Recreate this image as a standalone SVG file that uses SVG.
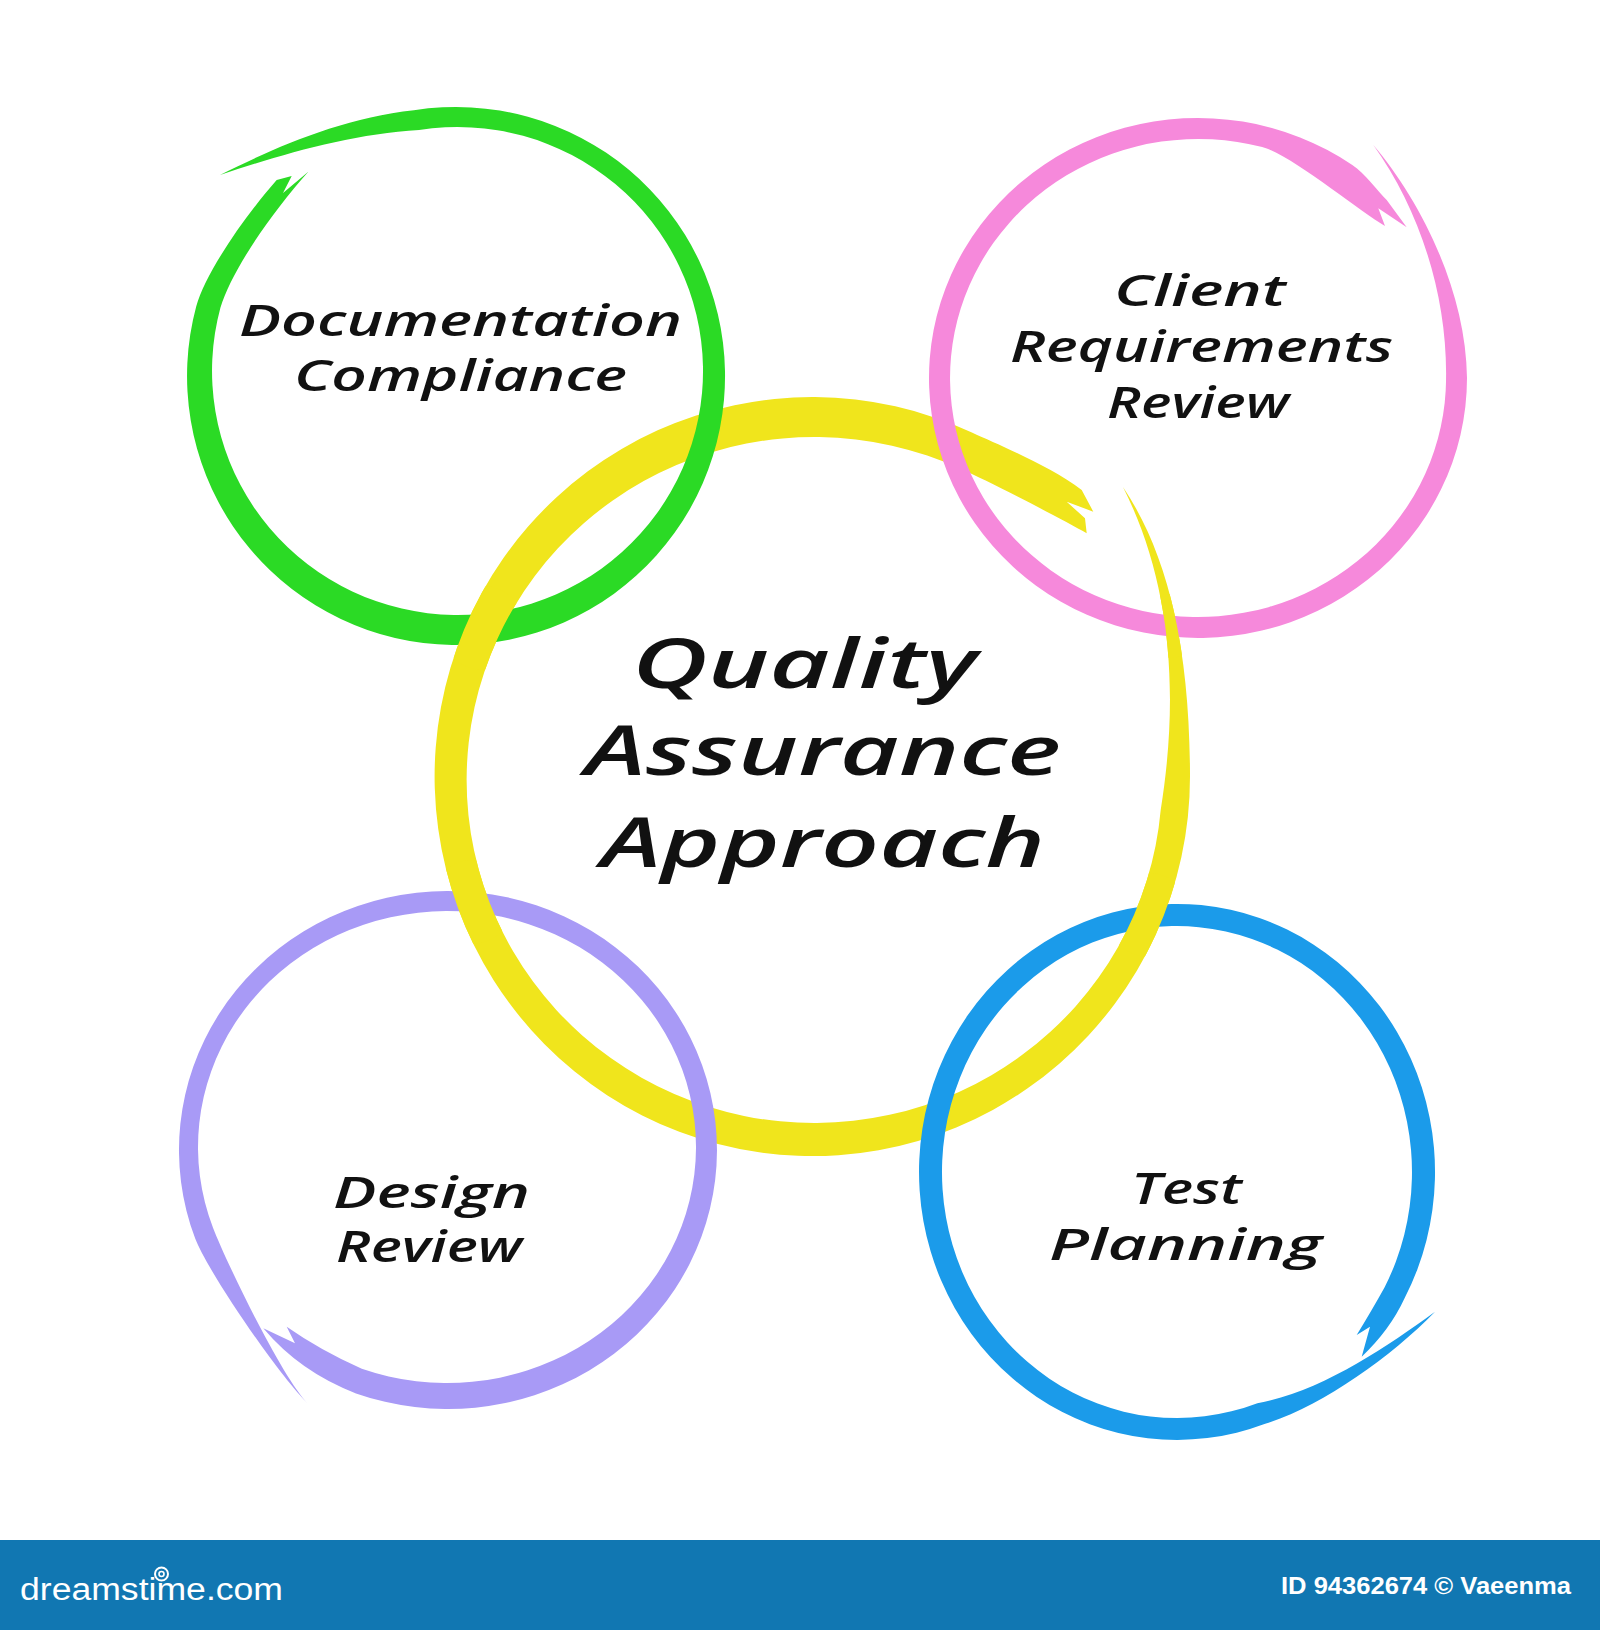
<svg xmlns="http://www.w3.org/2000/svg" xmlns:xlink="http://www.w3.org/1999/xlink" width="1600" height="1630" viewBox="0 0 1600 1630">
  <style>
    .lbl { font-family: "Open Sans", "DejaVu Sans", sans-serif; font-style: italic; font-weight: 600; fill: #111111; }
    .small { font-size: 44px; }
    .big { font-size: 68px; }
    .green { fill: #2bda25; }
    .yellow { fill: #f0e51c; }
    .pink { fill: #f689db; }
    .purple { fill: #a89af6; }
    .blue { fill: #1b9bea; }
    .foot { fill: #ffffff; font-family: "Liberation Sans", Arial, sans-serif; }
  </style>
  <defs>
    <path id="yellow-ring" d="M 1190,776.5 A 377.7 379.5 0 1 1 971.9,432.6 C 999,445 1050,466 1081.7,490 L 1093.3,511.7 L 1066.7,501.7 L 1085,518.3 L 1086.7,533.3 C 1060,518 990,482 961.2,469.1 A 347.7 343 0 1 0 1160.7,809.9 C 1180,690 1170,580 1123,487 C 1165,550 1190,640 1190,776.5 Z"/>
    <clipPath id="yellow-over">
      <circle cx="483" cy="628" r="42"/>
      <circle cx="1170" cy="626" r="32"/>
      <circle cx="472" cy="902" r="42"/>
      <circle cx="1149" cy="915" r="42"/>
    </clipPath>
  </defs>

  <rect x="0" y="0" width="1600" height="1630" fill="#ffffff"/>

  <g id="quality-assurance-approach">
    <use xlink:href="#yellow-ring" href="#yellow-ring" class="yellow"/>
    <text class="lbl big" x="632" y="688" textLength="345" lengthAdjust="spacingAndGlyphs">Quality</text>
    <text class="lbl big" x="585" y="775" textLength="476" lengthAdjust="spacingAndGlyphs">Assurance</text>
    <text class="lbl big" x="601" y="867" textLength="444" lengthAdjust="spacingAndGlyphs">Approach</text>
  </g>

  <g id="documentation-compliance">
    <path class="green" d="M 413.9,110.3 A 269 269 0 1 1 196.2,306.4 C 205,275 240,222 276.7,180 L 291.7,176 L 283,193 L 308.3,171.7 C 270,215 232,270 220.4,307.8 A 245.5 244 0 1 0 419.1,130 C 350,134 280,155 220,175 C 270,150 340,118 413.9,110.3 Z"/>
    <text class="lbl small" x="239" y="336" textLength="443" lengthAdjust="spacingAndGlyphs">Documentation</text>
    <text class="lbl small" x="294" y="391" textLength="333" lengthAdjust="spacingAndGlyphs">Compliance</text>
  </g>

  <g id="client-requirements-review">
    <path class="pink" d="M 1467,378 A 269 260 0 1 1 1352.3,165 C 1364.8,173.4 1378.3,191.5 1386.7,200 L 1406.7,227.3 L 1378.3,208.3 L 1385,226 C 1360,212 1291.2,154.6 1262.2,147.1 A 248 239 0 1 0 1445.7,390.5 C 1450,300 1420,210 1373.3,145 C 1420,200 1466,290 1467,378 Z"/>
    <text class="lbl small" x="1114" y="306" textLength="172" lengthAdjust="spacingAndGlyphs">Client</text>
    <text class="lbl small" x="1010" y="362" textLength="383" lengthAdjust="spacingAndGlyphs">Requirements</text>
    <text class="lbl small" x="1107" y="418" textLength="182" lengthAdjust="spacingAndGlyphs">Review</text>
  </g>

  <g id="design-review">
    <path class="purple" d="M 356,1393.4 A 269 259 0 1 0 195.2,1238.6 C 207.6,1271.3 279.5,1376.4 308.3,1404 C 282,1378 225.5,1260.4 213,1227.7 A 249 236 0 1 1 361.8,1368.8 Q 320,1350 286.7,1326.7 L 295,1343.3 L 263.3,1328.3 Q 300,1372 356,1393.4 Z"/>
    <text class="lbl small" x="333" y="1208" textLength="197" lengthAdjust="spacingAndGlyphs">Design</text>
    <text class="lbl small" x="336" y="1262" textLength="186" lengthAdjust="spacingAndGlyphs">Review</text>
  </g>

  <g id="test-planning">
    <path class="blue" d="M 1404.8,1297.8 A 258 268 0 1 0 1265.2,1423.8 C 1320,1407 1390,1358 1435,1311.7 C 1385,1348 1320,1392 1257.4,1403.2 A 235 246 0 1 1 1384.5,1287.5 Q 1372,1310 1356.7,1335 L 1370,1326.7 L 1361.7,1356.7 Q 1390,1330 1404.8,1297.8 Z"/>
    <text class="lbl small" x="1131" y="1204" textLength="111" lengthAdjust="spacingAndGlyphs">Test</text>
    <text class="lbl small" x="1049" y="1260" textLength="273" lengthAdjust="spacingAndGlyphs">Planning</text>
  </g>

  <g id="ring-crossings" clip-path="url(#yellow-over)">
    <use xlink:href="#yellow-ring" href="#yellow-ring" class="yellow"/>
  </g>

  <g id="connectors"/>

  <g id="footer">
    <rect x="0" y="1540" width="1600" height="90" fill="#1177b2"/>
    <text class="foot" x="20" y="1600" font-size="31" textLength="263" lengthAdjust="spacingAndGlyphs">dreamstime.com</text>
    <circle cx="161.5" cy="1574" r="6.5" fill="none" stroke="#ffffff" stroke-width="2"/>
    <circle cx="161.5" cy="1574" r="2.5" fill="none" stroke="#ffffff" stroke-width="1.6"/>
    <text class="foot" x="1281" y="1594" font-size="24" font-weight="bold" font-family="'Liberation Sans Narrow', 'Liberation Sans', sans-serif" textLength="290" lengthAdjust="spacingAndGlyphs">ID 94362674 © Vaeenma</text>
  </g>
</svg>
